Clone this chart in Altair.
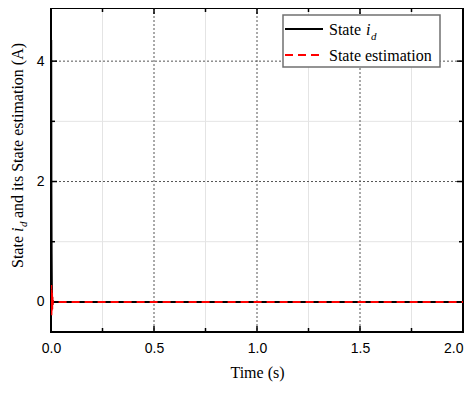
import altair as alt
import pandas as pd

# ---- data ----
t_state = [0.0, 0.0005, 0.001, 0.0015, 0.002, 0.003, 0.004, 0.005, 0.006, 0.008, 0.010, 0.015, 2.0]
i_state = [0.0, 2.5, 4.35, 3.2, 1.8, 0.8, 0.3, 0.1, -0.05, 0.02, 0.0, 0.0, 0.0]
t_est = [0.0, 0.001, 0.002, 0.003, 0.004, 0.005, 0.006, 0.007, 0.008, 0.009, 0.010, 0.012, 0.015, 2.0]
i_est = [0.0, 0.28, -0.25, 0.22, -0.18, 0.15, -0.12, 0.08, -0.05, 0.03, 0.01, 0.0, 0.0, 0.0]

x_major = [0.5, 1.0, 1.5]
x_minor = [0.25, 0.75, 1.25, 1.75]
y_major = [0, 2, 4]
y_minor = [1, 3]
x_tick_labels = [0.0, 0.5, 1.0, 1.5, 2.0]
y_tick_labels = [0, 2, 4]
x_title = "Time (s)"
y_title_parts = ["State", "i", "d", "and its State estimation (A)"]
legend_texts = ["State", "i", "d", "State estimation"]

W, H = 412, 324
SERIF = "Liberation Serif"
SANS = "Liberation Sans"

xs = alt.Scale(domain=[0, 2], nice=False, zero=False)
ys = alt.Scale(domain=[-0.5, 4.883], nice=False, zero=False)
AX = alt.Axis(values=x_tick_labels, format=".1f", grid=False, ticks=False, domain=False,
              labelFont=SANS, labelFontSize=14, labelColor="black", labelPadding=9,
              labelFlush=False,
              labelAlign=alt.expr("datum.value >= 2 ? 'right' : 'center'"),
              title=x_title, titleFont=SERIF, titleFontSize=16,
              titleFontWeight="normal", titleColor="black", titlePadding=9)
AY = alt.Axis(values=y_tick_labels, format="d", grid=False, ticks=False, domain=False,
              labelFont=SANS, labelFontSize=14, labelColor="black", labelPadding=7,
              title=None)
X = alt.X("t:Q", scale=xs, axis=AX)
Y = alt.Y("v:Q", scale=ys, axis=AY)

state_df = pd.DataFrame({"t": t_state, "v": i_state})
est_df = pd.DataFrame({"t": t_est, "v": i_est})
one = pd.DataFrame({"k": [0]})


def vrules(vals, color, dash, width):
    return alt.Chart(pd.DataFrame({"t": vals})).mark_rule(
        color=color, strokeDash=dash, strokeWidth=width
    ).encode(x=X, y=alt.value(0), y2=alt.value(H))


def hrules(vals, color, dash, width):
    return alt.Chart(pd.DataFrame({"v": vals})).mark_rule(
        color=color, strokeDash=dash, strokeWidth=width
    ).encode(y=Y, x=alt.value(0), x2=alt.value(W))


minor_x = vrules(x_minor, "#e4e4e4", [1, 0], 1)
minor_y = hrules(y_minor, "#e4e4e4", [1, 0], 1)
major_x = vrules(x_major, "#555555", [2, 2], 1)
major_y = hrules(y_major, "#555555", [2, 2], 1)


def xticks(vals, L):
    d = pd.DataFrame({"t": vals})
    b = alt.Chart(d).mark_rule(color="black", strokeWidth=1.5).encode(
        x=X, y=alt.value(H), y2=alt.value(H - L))
    t = alt.Chart(d).mark_rule(color="black", strokeWidth=1.5).encode(
        x=X, y=alt.value(0), y2=alt.value(L))
    return b + t


def yticks(vals, L):
    d = pd.DataFrame({"v": vals})
    l = alt.Chart(d).mark_rule(color="black", strokeWidth=1.5).encode(
        y=Y, x=alt.value(0), x2=alt.value(L))
    r = alt.Chart(d).mark_rule(color="black", strokeWidth=1.5).encode(
        y=Y, x=alt.value(W), x2=alt.value(W - L))
    return l + r


ticks = xticks(x_major, 6) + xticks(x_minor, 4) + yticks(y_major, 6) + yticks(y_minor, 4)

state_line = alt.Chart(state_df).mark_line(color="black", strokeWidth=2, clip=True).encode(
    x=X, y=Y, order="t:Q")
est_line = alt.Chart(est_df).mark_line(
    color="#ff0000", strokeWidth=2, strokeDash=[8, 5], clip=True
).encode(x=X, y=Y, order="t:Q")


def label(txt, x, y, size=16, style="normal", angle=0):
    return alt.Chart(pd.DataFrame({"s": [txt]})).mark_text(
        font=SERIF, fontSize=size, fontStyle=style, align="left", baseline="alphabetic",
        angle=angle, color="black"
    ).encode(text="s:N", x=alt.value(x), y=alt.value(y))


# legend (pixel positions relative to plot area)
leg_box = alt.Chart(one).mark_rect(fill="white", stroke="#707070", strokeWidth=1.5).encode(
    x=alt.value(232), x2=alt.value(389), y=alt.value(7), y2=alt.value(59))
leg_black = alt.Chart(one).mark_rule(color="black", strokeWidth=2).encode(
    x=alt.value(234), x2=alt.value(272), y=alt.value(21))
leg_red = alt.Chart(one).mark_rule(color="#ff0000", strokeWidth=2, strokeDash=[8, 5]).encode(
    x=alt.value(234), x2=alt.value(272), y=alt.value(47))
leg_txt = (label(legend_texts[0], 278, 27) + label(legend_texts[1], 315, 27, style="italic")
           + label(legend_texts[2], 320, 32, size=11, style="italic")
           + label(legend_texts[3], 278, 53))

# y title, rotated
ytitle = (label(y_title_parts[0], -28, 260, angle=270)
          + label(y_title_parts[1], -28, 224, style="italic", angle=270)
          + label(y_title_parts[2], -24, 219, size=11, style="italic", angle=270)
          + label(y_title_parts[3], -28, 210, angle=270))

chart = alt.layer(
    minor_x, minor_y, major_x, major_y, ticks, state_line, est_line,
    leg_box, leg_black, leg_red, leg_txt, ytitle
).properties(
    width=W, height=H,
    autosize=alt.AutoSizeParams(type="none"),
    padding={"left": 43, "top": 0, "right": 1, "bottom": 60},
    background="white",
).configure_view(stroke="black", strokeWidth=2)

chart.save("out.html", embed_options={"renderer": "svg", "actions": False})
